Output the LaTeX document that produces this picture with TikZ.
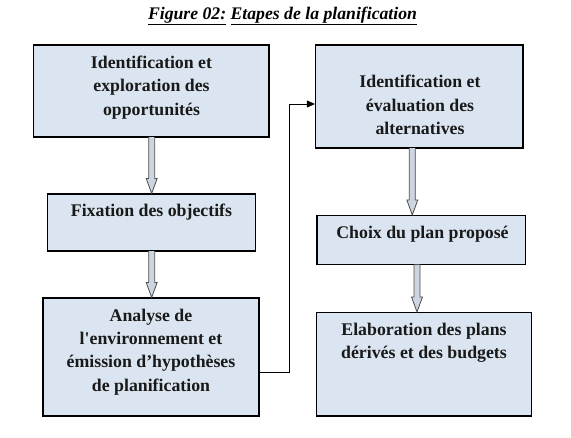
\documentclass[tikz,border=0pt]{standalone}
\usepackage{fontspec}
\setmainfont{Liberation Serif}
\usetikzlibrary{arrows.meta,calc}
\definecolor{boxfill}{HTML}{DBE5F1}
\newcommand{\fatarrow}[3]{%
  \path[fat] let \p1=(#1.south), \p2=(#2.north) in
    (#3pt-3pt,\y1+0.6pt) -- (#3pt-3pt,\y2+15pt) -- (#3pt-5.5pt,\y2+15pt) -- (#3pt,\y2)
    -- (#3pt+5.5pt,\y2+15pt) -- (#3pt+3pt,\y2+15pt) -- (#3pt+3pt,\y1+0.6pt);}
\begin{document}
\begin{tikzpicture}[x=1pt,y=-1pt,
  box/.style={draw=black,line width=1.2pt,fill=boxfill,inner sep=0pt},
  txt/.style={font=\fontsize{17.8}{23.4}\selectfont\bfseries,align=center,inner sep=0pt,text=black!90},
  fat/.style={draw=black!70,fill=boxfill!85!gray,line width=0.8pt,line join=miter},
  conn/.style={draw=black,line width=0.9pt,-{Triangle[length=8pt,width=7pt]}}]
\useasboundingbox (0,0) rectangle (571,437);
\node[font=\fontsize{17.7}{20}\selectfont\bfseries\itshape,inner sep=0pt] (title) at (282.5,16)
  {\underline{Figure 02:} \underline{Etapes de la planification}};
\node[box,minimum width=235.5pt,minimum height=92pt] (b1) at (151.25,91) {};
\node[box,minimum width=208pt,minimum height=57pt] (b2) at (151.5,222.5) {};
\node[box,minimum width=216pt,minimum height=118pt] (b3) at (151,357) {};
\node[box,minimum width=207.5pt,minimum height=103pt] (b4) at (419.25,96.5) {};
\node[box,minimum width=208.5pt,minimum height=49pt] (b5) at (421.25,240) {};
\node[box,minimum width=215pt,minimum height=103.5pt] (b6) at (424,364.25) {};
\node[txt] (t1) at (151.5,87.5) {Identification et\\exploration des\\opportunités};
\node[txt] (t2) at (151.5,212.5) {Fixation des objectifs};
\node[txt] (t3) at (151,352) {Analyse de\\l\textquotesingle environnement et\\émission d’hypothèses\\de planification};
\node[txt] (t4) at (420,105) {Identification et\\évaluation des\\alternatives};
\node[txt] (t5) at (422.5,234) {Choix du plan proposé};
\node[txt] (t6) at (424,342.5) {Elaboration des plans\\dérivés et des budgets};
\fatarrow{b1}{b2}{151.7}
\fatarrow{b2}{b3}{151.7}
\fatarrow{b4}{b5}{412.3}
\fatarrow{b5}{b6}{417}
\coordinate (k1) at (289.5,372);
\coordinate (k2) at (289.5,104);
\draw[conn] (b3.east |- k1) -- (k1) -- (k2) -- (b4.west |- k2);
\end{tikzpicture}
\end{document}
